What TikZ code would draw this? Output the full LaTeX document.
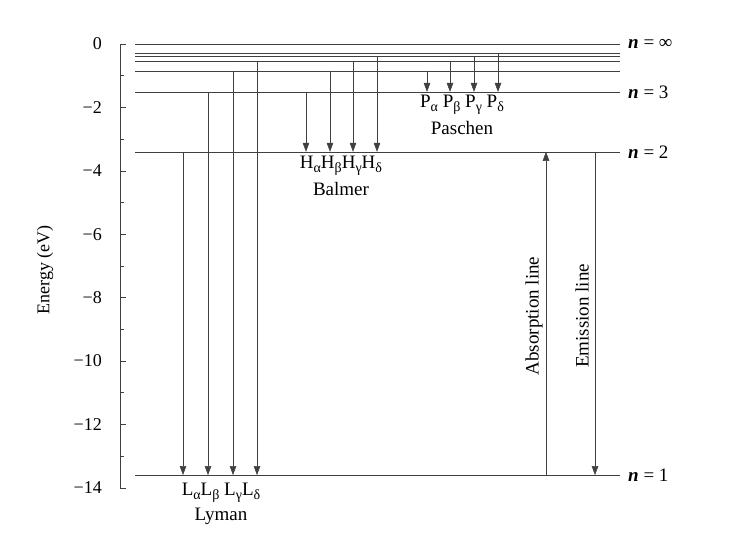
\documentclass[tikz,border=0pt]{standalone}
\usepackage{fontspec}
\setmainfont{Liberation Serif}
\usetikzlibrary{arrows.meta}
\newcommand{\gsub}[1]{\raisebox{-4.5pt}{\fontsize{14}{15}\selectfont #1}}
\begin{document}
\begin{tikzpicture}[x=1pt,y=-1pt,
  lvl/.style={draw=black!75,line width=0.6pt},
  trans/.style={draw=black!75,line width=0.5pt,-{Triangle[length=9pt,width=6.5pt]}},
  lbl/.style={font=\fontsize{19}{21}\selectfont,inner sep=1pt},
  tl/.style={font=\fontsize{18}{20}\selectfont,anchor=east,inner sep=1pt}]
\useasboundingbox (0,0) rectangle (730,541);
% axis
\draw[black!75,line width=0.6pt] (126,44) -- (120,44) -- (120,488) -- (126,488);
\foreach \e in {2,4,...,12}{\draw[black!75,line width=0.6pt] (120,{44+31.7*\e}) -- (126,{44+31.7*\e});}
\foreach \e in {1,3,...,13}{\draw[black!75,line width=0.6pt] (120,{44+31.7*\e}) -- (124,{44+31.7*\e});}
\node[tl] (t0) at (103,44) {0};
\foreach \e in {2,4,...,14}{\node[tl] (t\e) at (103,{44+31.7*\e}) {−\e};}
\node[lbl,rotate=90,font=\fontsize{18}{20}\selectfont] (ylab) at (45,270) {Energy (eV)};
% levels
\foreach \n/\y in {inf/44,7/52.8,6/55.9,5/61.2,4/70.9,3/91.9,2/151.8,1/475.1}{
  \coordinate (L\n a) at (135,\y); \coordinate (L\n b) at (620,\y);
  \draw[lvl] (L\n a) -- (L\n b);}
\node[lbl,anchor=west] (ninf) at (627,44) {\textbf{\textit{n}} = ∞};
\node[lbl,anchor=west] (n3) at (627,91.9) {\textbf{\textit{n}} = 3};
\node[lbl,anchor=west] (n2) at (627,151.8) {\textbf{\textit{n}} = 2};
\node[lbl,anchor=west] (n1) at (627,475.1) {\textbf{\textit{n}} = 1};
% Lyman
\foreach \x/\u in {183/2,208/3,233/4,257/5}{\draw[trans] (\x,0 |- L\u a) -- (\x,0 |- L1a);}
% Balmer
\foreach \x/\u in {306/3,330/4,353/5,377/6}{\draw[trans] (\x,0 |- L\u a) -- (\x,0 |- L2a);}
% Paschen
\foreach \x/\u in {427/4,450/5,474/6,498/7}{\draw[trans] (\x,0 |- L\u a) -- (\x,0 |- L3a);}
% absorption / emission
\draw[trans] (546,0 |- L1a) -- (546,0 |- L2a);
\draw[trans] (595,0 |- L2a) -- (595,0 |- L1a);
\node[lbl,rotate=90] (abs) at (534,316) {Absorption line};
\node[lbl,rotate=90] (emi) at (582,316) {Emission line};
% labels
\node[lbl] (ly) at (221,493) {L\gsub{α}L\gsub{β} L\gsub{γ}L\gsub{δ}};
\node[lbl] (lyn) at (221,516) {Lyman};
\node[lbl] (ba) at (341,166) {H\gsub{α}H\gsub{β}H\gsub{γ}H\gsub{δ}};
\node[lbl] (ban) at (341,189) {Balmer};
\node[lbl] (pa) at (462,105) {P\gsub{α} P\gsub{β} P\gsub{γ} P\gsub{δ}};
\node[lbl] (pan) at (462,128) {Paschen};
\end{tikzpicture}
\end{document}
